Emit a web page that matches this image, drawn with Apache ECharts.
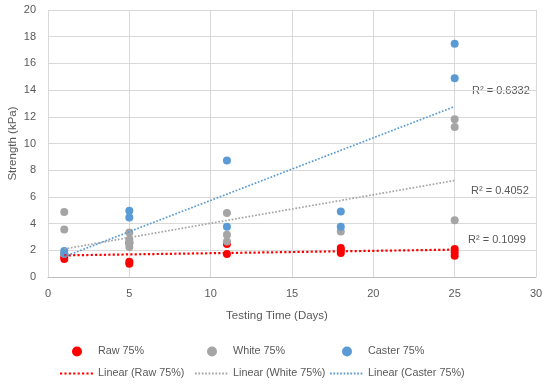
<!DOCTYPE html>
<html>
<head>
<meta charset="utf-8">
<script src="https://cdn.jsdelivr.net/npm/echarts@6/dist/echarts.min.js"></script>
<style>
html,body{margin:0;padding:0;background:#fff;}
#chart{width:550px;height:386px;}
</style>
</head>
<body>
<div id="chart"></div>
<script>
// Data
const seriesNames = ['Raw 75%', 'White 75%', 'Caster 75%'];
const trendNames = ['Linear (Raw 75%)', 'Linear (White 75%)', 'Linear (Caster 75%)'];
const rawPoints = [[1,1.35],[1,1.5],[5,2.55],[5,1.15],[5,1.0],[11,2.47],[11,1.72],[18,2.17],[18,2.0],[18,1.8],[25,2.09],[25,1.85],[25,1.6]];
const whitePoints = [[1,4.86],[1,3.56],[1,1.75],[5,3.34],[5,2.79],[5,2.6],[5,2.24],[11,4.79],[11,3.16],[11,2.66],[18,3.41],[25,11.82],[25,11.24],[25,4.26]];
const casterPoints = [[1,1.95],[1,1.75],[5,4.96],[5,4.45],[11,8.72],[11,3.76],[18,4.91],[18,3.76],[25,17.47],[25,14.88]];
// Trendline end points
const rawTrend = [[1,1.62],[25,2.05]];
const whiteTrend = [[1,2.1],[25,7.23]];
const casterTrend = [[1,1.52],[25,12.77]];
const r2Labels = ['R\u00b2 = 0.1099', 'R\u00b2 = 0.4052', 'R\u00b2 = 0.6332'];
const xTicks = [0,5,10,15,20,25,30];
const yTicks = [0,2,4,6,8,10,12,14,16,18,20];

const colors = ['#FF0000', '#A5A5A5', '#5B9BD5'];
const FONT = 'Liberation Sans';
const txt = '#595959';

const chart = echarts.init(document.getElementById('chart'), null, {renderer: 'canvas'});

function scatter(name, data, color) {
  return {name, type: 'scatter', data, symbol: 'circle', symbolSize: 8,
    itemStyle: {color, opacity: 1}, z: 3, emphasis: {disabled: true}};
}
function trend(name, data, color, w) {
  return {name, type: 'line', data, symbol: 'none', silent: true, z: 4,
    lineStyle: {color, width: w, type: [w, w]}, itemStyle: {color}};
}

const col = [60, 195, 330];
const legends = [];
for (let i = 0; i < 3; i++) {
  legends.push({
    data: [{name: seriesNames[i], icon: 'circle'}], left: col[i] + 12, top: 346, padding: 0,
    itemWidth: 10, itemHeight: 10, selectedMode: false,
    textStyle: {fontFamily: FONT, fontSize: 10.8, color: txt, padding: [0,0,0,11]}
  });
  legends.push({
    data: [{name: trendNames[i], itemStyle: {opacity: 0}}], left: col[i] - 1, top: 368, padding: 0,
    itemWidth: 33, itemHeight: 10, selectedMode: false,
    textStyle: {fontFamily: FONT, fontSize: 10.8, color: txt}
  });
}

const option = {
  animation: false,
  backgroundColor: '#fff',
  color: colors,
  grid: {left: 48, right: 14, top: 10, bottom: 109, containLabel: false, outerBoundsMode: 'none'},
  legend: legends,
  xAxis: {
    type: 'value', min: xTicks[0], max: xTicks[xTicks.length-1], interval: 5,
    name: 'Testing Time (Days)', nameLocation: 'middle', nameGap: 33, nameMoveOverlap: false,
    nameTextStyle: {fontFamily: FONT, fontSize: 11.5, color: txt, padding: [0,30,0,0]},
    axisLine: {show: true, lineStyle: {color: '#BFBFBF', width: 1}},
    axisTick: {show: false},
    axisLabel: {fontFamily: FONT, fontSize: 11, color: txt, margin: 11},
    splitLine: {show: true, lineStyle: {color: '#D9D9D9', width: 1}}
  },
  yAxis: {
    type: 'value', min: yTicks[0], max: yTicks[yTicks.length-1], interval: 2,
    name: 'Strength (kPa)', nameLocation: 'middle', nameGap: 29, nameRotate: 90, nameMoveOverlap: false,
    nameTextStyle: {fontFamily: FONT, fontSize: 11.5, color: txt},
    axisLine: {show: true, lineStyle: {color: '#D9D9D9', width: 1}},
    axisTick: {show: false},
    axisLabel: {fontFamily: FONT, fontSize: 11, color: txt, margin: 12},
    splitLine: {show: true, lineStyle: {color: '#D9D9D9', width: 1}}
  },
  graphic: [
    {type: 'text', left: 468, top: 234, style: {text: r2Labels[0], font: '11px "Liberation Sans"', fill: txt}},
    {type: 'text', left: 471, top: 185, style: {text: r2Labels[1], font: '11px "Liberation Sans"', fill: txt}},
    {type: 'text', left: 472, top: 85, style: {text: r2Labels[2], font: '11px "Liberation Sans"', fill: txt}}
  ],
  series: [
    scatter(seriesNames[0], rawPoints, colors[0]),
    scatter(seriesNames[1], whitePoints, colors[1]),
    scatter(seriesNames[2], casterPoints, colors[2]),
    trend(trendNames[0], rawTrend, colors[0], 2.2),
    trend(trendNames[1], whiteTrend, colors[1], 1.7),
    trend(trendNames[2], casterTrend, colors[2], 1.7)
  ]
};
chart.setOption(option);
</script>
</body>
</html>
